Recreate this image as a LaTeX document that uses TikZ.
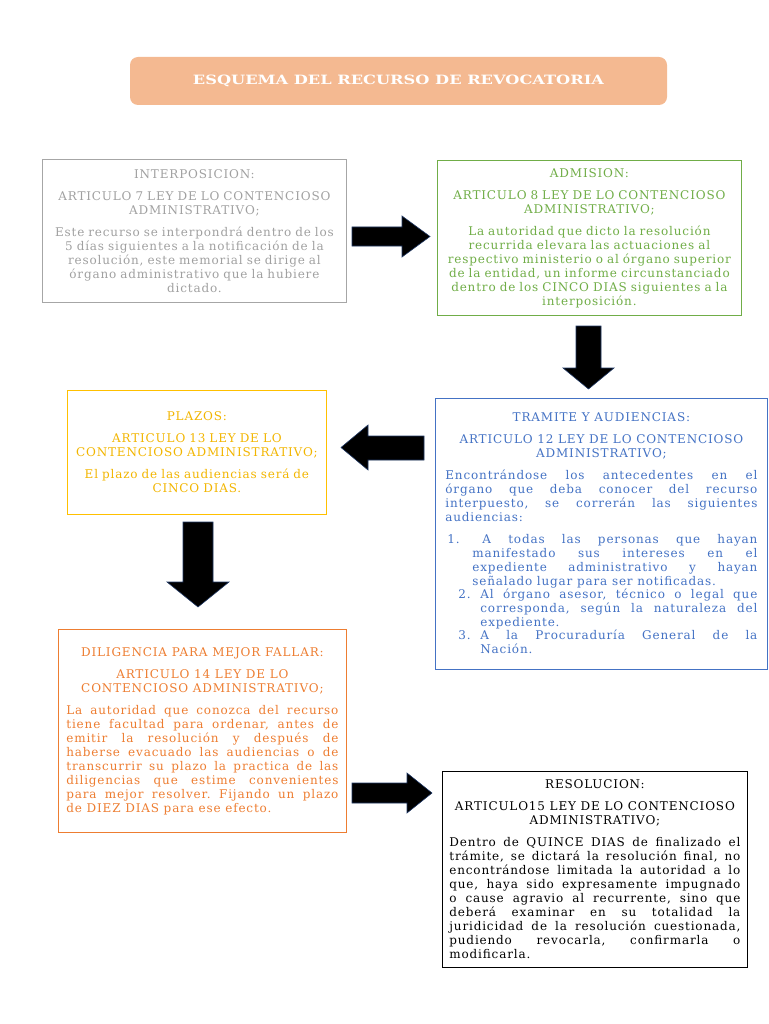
\documentclass[tikz,border=0pt]{standalone}
\usepackage{fontspec}
\usepackage{graphicx}
\newfontfamily\bodyf{DejaVu Serif}[LetterSpace=7]
\newfontfamily\titlef{DejaVu Serif}
\setlength{\parindent}{0pt}
\frenchspacing
\definecolor{cgray}{HTML}{A0A0A0}
\definecolor{cgrayb}{HTML}{A6A6A6}
\definecolor{cgreen}{HTML}{70AD47}
\definecolor{cblue}{HTML}{4472C4}
\definecolor{cgold}{HTML}{FFC000}
\definecolor{cgoldt}{HTML}{F2B500}
\definecolor{corange}{HTML}{ED7D31}
\definecolor{ctitle}{HTML}{F4B991}
\definecolor{cnavy}{HTML}{203864}
\newcommand\gap{\par\vspace{8pt}}
\tikzset{
  box/.style={draw, line width=0.8pt, rectangle, anchor=north west, inner xsep=10pt, inner ysep=0pt,
    font=\bodyf\fontsize{12}{14}\selectfont\frenchspacing},
  barrow/.style={fill=black, draw=cnavy, line width=0.6pt, line join=miter},
}
\begin{document}
\begin{tikzpicture}[x=1pt,y=-1pt]
\useasboundingbox (0,0) rectangle (768,1024);
% title
\node[fill=ctitle, rounded corners=8pt, minimum width=537pt, minimum height=48pt, inner sep=0pt] (title) at (398.5,81)
  {\textcolor{white}{\resizebox{411pt}{9.5pt}{\titlef\bfseries ESQUEMA DEL RECURSO DE REVOCATORIA}}};
% box 1
\node[box, draw=cgrayb, text=cgray, minimum width=304pt, minimum height=143pt, text width=290pt, inner xsep=7pt, align=center] (inter) at (42,159)
  {INTERPOSICION:\gap
   ARTICULO 7 LEY DE LO CONTENCIOSO\\ADMINISTRATIVO;\gap
   Este recurso se interpondrá dentro de los\\5 días siguientes a la notificación de la\\resolución, este memorial se dirige al\\órgano administrativo que la hubiere\\dictado.};
% box 2
\node[box, draw=cgreen, text=cgreen, minimum width=304pt, minimum height=155pt, text width=290pt, inner xsep=7pt, align=center] (adm) at (437,160)
  {ADMISION:\gap
   ARTICULO 8 LEY DE LO CONTENCIOSO\\ADMINISTRATIVO;\gap
   La autoridad que dicto la resolución\\recurrida elevara las actuaciones al\\respectivo ministerio o al órgano superior\\de la entidad, un informe circunstanciado\\dentro de los CINCO DIAS siguientes a la\\interposición.};
% box 3
\node[box, draw=cblue, text=cblue, minimum width=332pt, minimum height=271pt, text width=312pt, align=justify] (tram) at (435,398)
  {{\centering TRAMITE Y AUDIENCIAS:\gap
   ARTICULO 12 LEY DE LO CONTENCIOSO\\ADMINISTRATIVO;\par}\vspace{8pt}
   Encontrándose los antecedentes en el\linebreak órgano que deba conocer del recurso\linebreak interpuesto, se correrán las siguientes\linebreak audiencias:\par\vspace{8pt}
   \makebox[27pt][l]{\hspace{2pt}1.}\parbox[t]{285pt}{\hspace*{10pt}A todas las personas que hayan\linebreak manifestado sus intereses en el\linebreak expediente administrativo y hayan\linebreak señalado lugar para ser notificadas.}\par
   \makebox[35pt][l]{\hspace{13pt}2.}\parbox[t]{277pt}{Al órgano asesor, técnico o legal que\linebreak corresponda, según la naturaleza del\linebreak expediente.}\par
   \makebox[35pt][l]{\hspace{13pt}3.}\parbox[t]{277pt}{A la Procuraduría General de la\linebreak Nación.}\par\vspace{2pt}};
% box 4
\node[box, draw=cgold, text=cgoldt, minimum width=259pt, minimum height=124pt, text width=253pt, inner xsep=3pt, align=center] (plazos) at (67,390)
  {PLAZOS:\gap
   ARTICULO 13 LEY DE LO\\CONTENCIOSO ADMINISTRATIVO;\gap
   El plazo de las audiencias será de\\CINCO DIAS.};
% box 5
\node[box, draw=corange, text=corange, minimum width=288pt, minimum height=203pt, text width=272pt, inner xsep=8pt, align=justify] (dil) at (58,629)
  {{\centering DILIGENCIA PARA MEJOR FALLAR:\gap
   ARTICULO 14 LEY DE LO\\CONTENCIOSO ADMINISTRATIVO;\par}\vspace{8pt}
   La autoridad que conozca del recurso\linebreak tiene facultad para ordenar, antes de\linebreak emitir la resolución y después de\linebreak haberse evacuado las audiencias o de\linebreak transcurrir su plazo la practica de las\linebreak diligencias que estime convenientes\linebreak para mejor resolver. Fijando un plazo\linebreak de DIEZ DIAS para ese efecto.};
% box 6
\node[box, draw=black, text=black, minimum width=305pt, minimum height=196pt, text width=291pt, inner xsep=7pt, align=justify] (res) at (442,771)
  {{\centering RESOLUCION:\gap
   ARTICULO15 LEY DE LO CONTENCIOSO\\ADMINISTRATIVO;\par}\vspace{8pt}
   Dentro de QUINCE DIAS de finalizado el\linebreak trámite, se dictará la resolución final, no\linebreak encontrándose limitada la autoridad a lo\linebreak que, haya sido expresamente impugnado\linebreak o cause agravio al recurrente, sino que\linebreak deberá examinar en su totalidad la\linebreak juridicidad de la resolución cuestionada,\linebreak pudiendo revocarla, confirmarla o\linebreak modificarla.};
% block arrows
\draw[barrow] (352,227) -- (402,227) -- (402,216) -- (430,236.5) -- (402,257) -- (402,246) -- (352,246) -- cycle;
\draw[barrow] (576,326) -- (601,326) -- (601,368) -- (614,368) -- (588.5,389) -- (563,368) -- (576,368) -- cycle;
\draw[barrow] (424,436) -- (368,436) -- (368,425) -- (341,447.5) -- (368,470) -- (368,460) -- (424,460) -- cycle;
\draw[barrow] (183,522) -- (213,522) -- (213,582) -- (229,582) -- (198,607) -- (167,582) -- (183,582) -- cycle;
\draw[barrow] (352,783) -- (407,783) -- (407,773) -- (432,793) -- (407,813) -- (407,803) -- (352,803) -- cycle;
\end{tikzpicture}
\end{document}
